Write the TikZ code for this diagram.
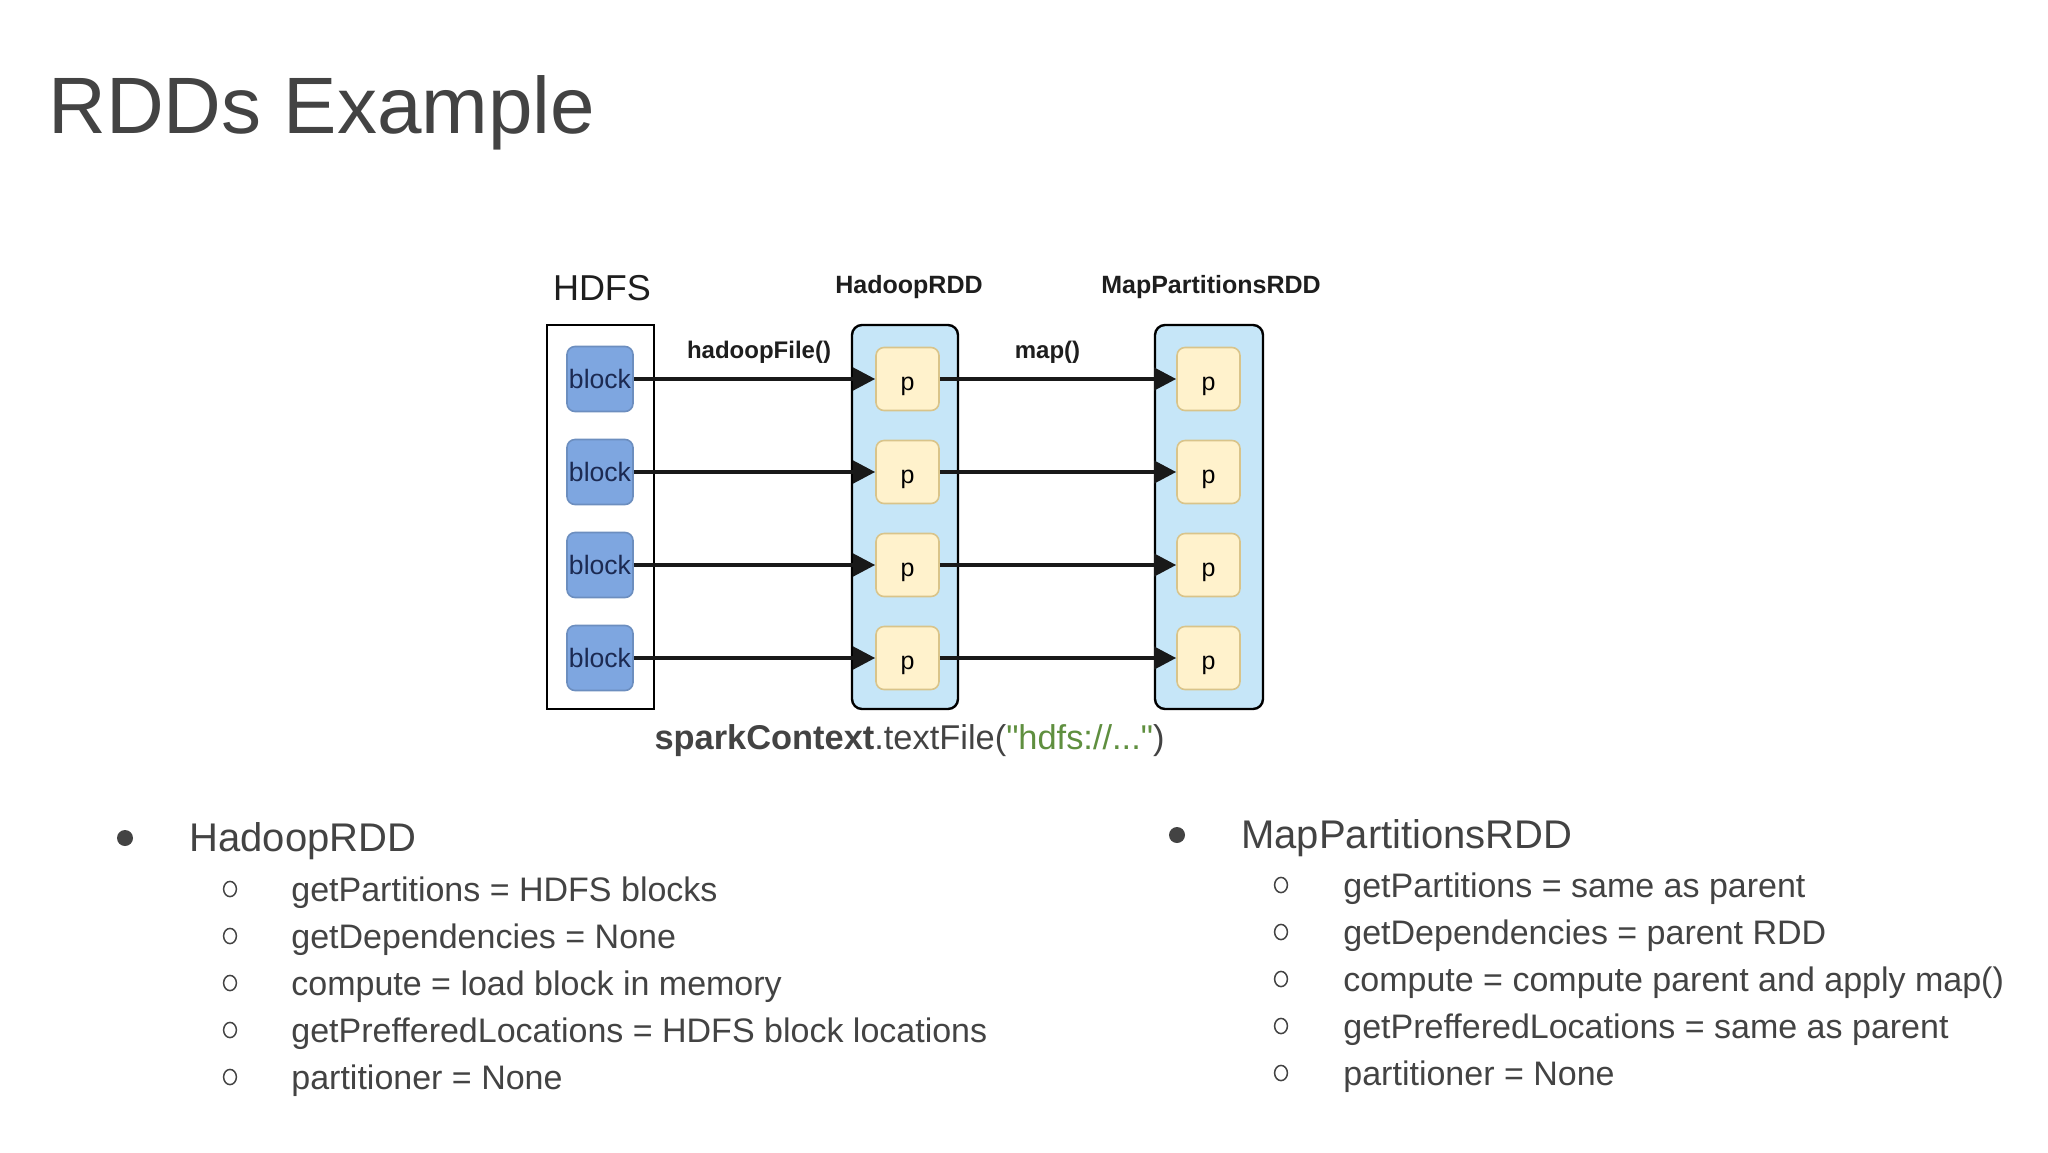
\documentclass[tikz,border=0pt]{standalone}
\usepackage{fontspec}
\setmainfont{Liberation Sans}[Ligatures=TeXOff]
\usetikzlibrary{arrows.meta}
\definecolor{txt}{HTML}{434343}
\definecolor{dlabel}{HTML}{1E1E1E}
\definecolor{blkfill}{HTML}{7EA6E0}
\definecolor{blkborder}{HTML}{6C8EBF}
\definecolor{blktext}{HTML}{1C2A52}
\definecolor{pfill}{HTML}{FFF2CC}
\definecolor{pborder}{HTML}{D9C48A}
\definecolor{contfill}{HTML}{C6E6F8}
\definecolor{codegreen}{HTML}{5F8F3F}
\begin{document}
\begin{tikzpicture}[x=0.5pt,y=-0.5pt,
  blk/.style={draw=blkborder, line width=0.8pt, fill=blkfill, rounded corners=4pt,
    minimum width=33pt, minimum height=32.5pt, inner sep=0pt,
    font=\fontsize{13.3}{15}\selectfont, text=blktext, text height=9.5pt, text depth=0pt},
  part/.style={draw=pborder, line width=0.8pt, fill=pfill, rounded corners=4pt,
    minimum width=31.5pt, minimum height=31.5pt, inner sep=0pt,
    font=\fontsize{12.5}{15}\selectfont, text=black, text height=11pt, text depth=0pt},
  cont/.style={draw=black, line width=1.2pt, fill=contfill, rounded corners=5pt,
    minimum height=192pt, inner sep=0pt},
  hbox/.style={draw=black, line width=1pt, minimum width=53.5pt, minimum height=192pt, inner sep=0pt},
  flow/.style={line width=2pt, draw=black!90, -{Triangle[length=11pt,width=11pt]}},
  dlbl/.style={anchor=base, inner sep=0pt, text=dlabel},
  heading/.style={anchor=base west, inner sep=0pt, text=txt, font=\fontsize{20}{24}\selectfont},
  item/.style={anchor=base west, inner sep=0pt, text=txt, font=\fontsize{17}{20}\selectfont},
  bigdot/.style={circle, fill=txt, inner sep=0pt, minimum size=8pt}
]
\useasboundingbox[fill=white] (0,0) rectangle (2048,1152);

% title
\node[anchor=base west, inner sep=0pt, text=txt, font=\fontsize{40}{48}\selectfont] (title) at (48,133) {RDDs Example};

% column labels
\node[dlbl, font=\fontsize{18}{22}\selectfont] (hdfslbl) at (602,300) {HDFS};
\node[dlbl, font=\bfseries\fontsize{12.5}{15}\selectfont] (hrddlbl) at (909,293) {HadoopRDD};
\node[dlbl, font=\bfseries\fontsize{12.5}{15}\selectfont] (mrddlbl) at (1211,293) {MapPartitionsRDD};

% containers
\node[hbox] (hdfs) at (600.5,517) {};
\node[cont, minimum width=53pt] (hrdd) at (905,517) {};
\node[cont, minimum width=54pt] (mrdd) at (1209,517) {};

% blocks and partitions
\foreach \i/\y in {1/379,2/472,3/565,4/658}{
  \node[blk] (b\i) at (600,\y) {block};
  \node[part] (h\i) at (907.5,\y) {p};
  \node[part] (m\i) at (1208.5,\y) {p};
}

% arrows
\foreach \i in {1,2,3,4}{
  \draw[flow] (b\i.east) -- (h\i.west);
  \draw[flow] (h\i.east) -- (m\i.west);
}

% arrow labels
\node[dlbl, font=\bfseries\fontsize{12}{15}\selectfont] (hfl) at (759,358) {hadoopFile()};
\node[dlbl, font=\bfseries\fontsize{12}{15}\selectfont] (mapl) at (1047.5,358) {map()};

% code caption
\node[anchor=base, inner sep=0pt, text=txt, font=\fontsize{17.2}{21}\selectfont] (code) at (909.5,749)
  {\textbf{sparkContext}.textFile(\textcolor{codegreen}{"hdfs://..."})};

% left list
\node[bigdot] (ld) at (125,838) {};
\node[heading] (lh) at (189,851) {HadoopRDD};
\foreach \i/\y/\t in {1/901/{getPartitions = HDFS blocks},
                      2/948/{getDependencies = None},
                      3/995/{compute = load block in memory},
                      4/1042/{getPrefferedLocations = HDFS block locations},
                      5/1089/{partitioner = None}}{
  \draw[txt, line width=0.75pt] (230,\y-12) ellipse [x radius=3.2pt, y radius=3.8pt];
  \node[item] (l\i) at (291,\y) {\t};
}

% right list
\node[bigdot] (rd) at (1177,835) {};
\node[heading] (rh) at (1241,848) {MapPartitionsRDD};
\foreach \i/\y/\t in {1/897/{getPartitions = same as parent},
                      2/944/{getDependencies = parent RDD},
                      3/991/{compute = compute parent and apply map()},
                      4/1038/{getPrefferedLocations = same as parent},
                      5/1085/{partitioner = None}}{
  \draw[txt, line width=0.75pt] (1281,\y-12) ellipse [x radius=3.2pt, y radius=3.8pt];
  \node[item] (r\i) at (1343,\y) {\t};
}
\end{tikzpicture}
\end{document}
